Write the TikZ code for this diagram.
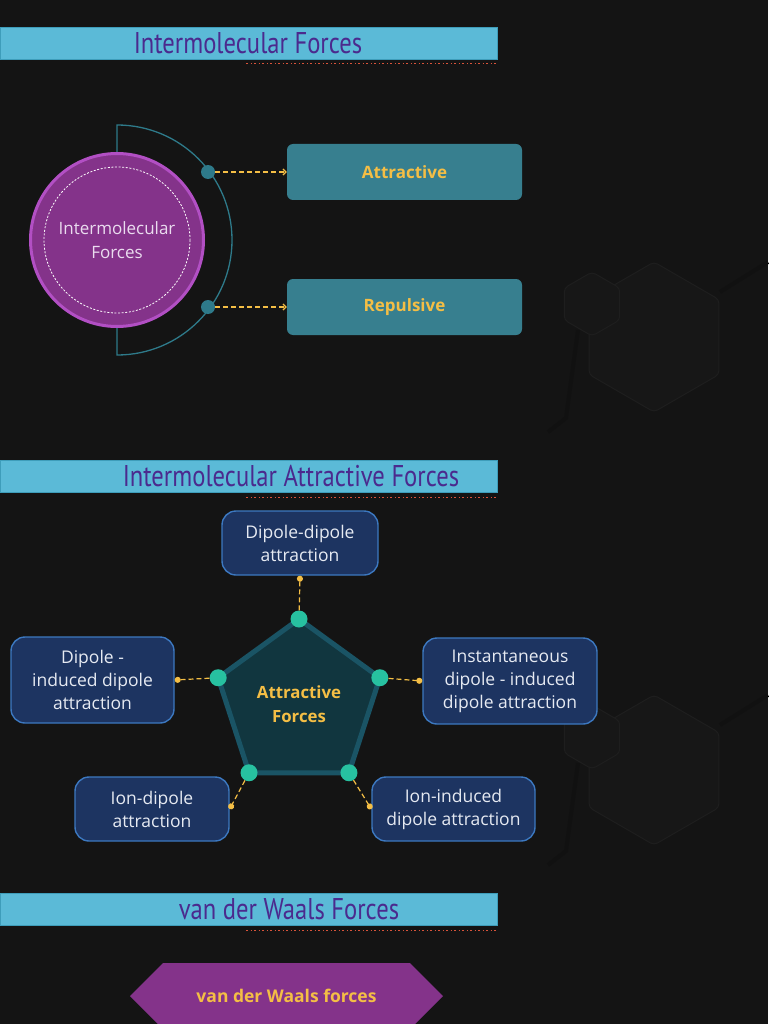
\documentclass[tikz,border=0pt]{standalone}
\usepackage{fontspec}
\setmainfont{Open Sans}
\newfontfamily\titlefont[FakeStretch=0.82]{PT Sans}
\usetikzlibrary{arrows.meta,positioning,shapes.geometric,shapes.misc}
\definecolor{Canvas}{HTML}{141414}
\definecolor{BarColor}{HTML}{5BBAD7}
\definecolor{BarRim}{HTML}{3E9DBA}
\definecolor{TitleInk}{HTML}{4B2A8E}
\definecolor{RuleColor}{HTML}{D9533A}
\definecolor{CoreColor}{HTML}{84338A}
\definecolor{CoreRim}{HTML}{B24FC4}
\definecolor{CoreInk}{HTML}{EADCEF}
\definecolor{OrbitColor}{HTML}{2E7A8A}
\definecolor{TypeColor}{HTML}{377F8F}
\definecolor{Accent}{HTML}{F4BE45}
\definecolor{PentaFill}{HTML}{11363F}
\definecolor{PentaRim}{HTML}{1A5465}
\definecolor{VertexColor}{HTML}{27C1A0}
\definecolor{LeafFill}{HTML}{1D3461}
\definecolor{LeafRim}{HTML}{3C78C0}
\definecolor{LeafInk}{HTML}{E6EAF2}
\definecolor{HexFill}{HTML}{171717}
\definecolor{HexRim}{HTML}{1E1E1E}
\definecolor{HexShade}{HTML}{111111}
\tikzset{
  title bar/.style={rectangle, fill=BarColor, draw=BarRim, line width=0.8pt,
    minimum width=497pt, minimum height=32pt, inner sep=0pt, outer sep=0pt},
  bar title/.style={text=TitleInk, font=\titlefont\fontsize{30}{32}\selectfont, inner sep=0pt},
  bar rule/.style={RuleColor, line width=1pt, dash pattern=on 2pt off 2.5pt on 1pt off 2.5pt},
  back hex/.style={regular polygon, regular polygon sides=6, shape border rotate=30,
    fill=HexFill, draw=HexRim, line width=1pt, rounded corners=4pt, inner sep=0pt},
  back line/.style={draw=HexShade, line width=4pt},
  core ball/.style={circle, fill=CoreColor, draw=CoreRim, line width=3pt,
    minimum size=173pt, inner sep=0pt, align=center, text=CoreInk,
    font=\fontsize{17}{24}\selectfont},
  orbit line/.style={draw=OrbitColor, line width=1.3pt},
  orbit dot/.style={circle, fill=OrbitColor, minimum size=14pt, inner sep=0pt},
  type box/.style={rectangle, fill=TypeColor, rounded corners=6pt,
    minimum width=235pt, minimum height=56pt, text=Accent,
    font=\bfseries\fontsize{17}{20}\selectfont},
  type link/.style={-{Straight Barb[length=3pt,width=6pt]}, draw=Accent,
    line width=1.2pt, dash pattern=on 5pt off 3pt},
  penta/.style={regular polygon, regular polygon sides=5, fill=PentaFill, draw=PentaRim,
    line width=5pt, minimum size=170pt, inner sep=0pt, outer sep=0pt, align=center,
    text=Accent, font=\bfseries\fontsize{16.8}{24}\selectfont},
  vertex dot/.style={circle, fill=VertexColor, minimum size=17pt, inner sep=0pt},
  leaf box/.style={rectangle, fill=LeafFill, draw=LeafRim, line width=1.4pt,
    rounded corners=14pt, align=center, text=LeafInk, inner sep=0pt,
    font=\fontsize{17.5}{23}\selectfont},
  leaf link/.style={-{Circle[length=6pt]}, draw=Accent, line width=1.2pt,
    dash pattern=on 5pt off 3pt},
  waals banner/.style={chamfered rectangle, chamfered rectangle xsep=13pt,
    chamfered rectangle ysep=26pt, fill=CoreColor, minimum width=313pt,
    minimum height=52pt, inner sep=0pt, text=Accent,
    font=\bfseries\fontsize{17.5}{20}\selectfont},
}

\begin{document}
\begin{tikzpicture}[x=1pt,y=-1pt]
  \fill[Canvas] (0,0) rectangle (768,1024);
  \useasboundingbox (0,0) rectangle (768,1024);

  % Faint hexagon motif behind both upper sections.
  \foreach \hy/\hn in {0/a,433/b}{
    \draw[back line] (720,\hy+292) -- (768,\hy+262);
    \draw[back line] (578,\hy+330) -- (566,\hy+418) -- (548,\hy+432);
    \node[back hex, minimum size=150pt] (hexBig\hn) at (654,\hy+337) {};
    \node[back hex, minimum size=64pt] (hexSmall\hn) at (592,\hy+304) {};
  }

  % Section title bars.
  \node[title bar, anchor=north west] (barOne) at (0,27) {};
  \node[title bar, anchor=north west] (barTwo) at (0,460) {};
  \node[title bar, anchor=north west] (barThree) at (0,893) {};
  \node[bar title] at (248,43) {Intermolecular Forces};
  \node[bar title] at (291,476) {Intermolecular Attractive Forces};
  \node[bar title] at (289,909) {van der Waals Forces};
  \draw[bar rule] ([xshift=246pt,yshift=-5pt]barOne.south west) -- ([yshift=-5pt]barOne.south east);
  \draw[bar rule] ([xshift=246pt,yshift=-5pt]barTwo.south west) -- ([yshift=-5pt]barTwo.south east);
  \draw[bar rule] ([xshift=246pt,yshift=-5pt]barThree.south west) -- ([yshift=-5pt]barThree.south east);

  % Intermolecular forces: core with its orbit.
  \draw[orbit line] (117,125) arc[start angle=-90, end angle=90, radius=115] -- cycle;
  \node[core ball] (core) at (117,240) {Intermolecular\\Forces};
  \draw[white, line width=0.8pt, dash pattern=on 2pt off 1.6pt] (core.center) circle (73);
  \node[orbit dot] (attrDot) at (208,172) {};
  \node[orbit dot] (repDot) at (208,307) {};
  \node[type box] (attractive) at (404.5,172) {Attractive};
  \node[type box] (repulsive) at (404.5,307) {Repulsive};
  \draw[type link] (attrDot) -- (attractive.west);
  \draw[type link] (repDot) -- (repulsive.west);

  % Attractive forces around the pentagon.
  \node[penta] (attr) at (299,704) {Attractive\\Forces};
  \node[vertex dot] (vTop) at (attr.corner 1) {};
  \node[vertex dot] (vLeft) at (attr.corner 2) {};
  \node[vertex dot] (vLowLeft) at (attr.corner 3) {};
  \node[vertex dot] (vLowRight) at (attr.corner 4) {};
  \node[vertex dot] (vRight) at (attr.corner 5) {};

  \node[leaf box, minimum width=156pt, minimum height=64pt] (dipoleDipole)
    at (300,543) {Dipole-dipole\\attraction};
  \node[leaf box, minimum width=163pt, minimum height=86pt] (dipoleInduced)
    at (92.5,680) {Dipole -\\induced dipole\\attraction};
  \node[leaf box, minimum width=174pt, minimum height=86pt] (instantaneous)
    at (510,681) {Instantaneous\\dipole - induced\\dipole attraction};
  \node[leaf box, minimum width=154pt, minimum height=64pt] (ionDipole)
    at (152,809) {Ion-dipole\\attraction};
  \node[leaf box, minimum width=163pt, minimum height=64pt] (ionInduced)
    at (453.5,809) {Ion-induced\\dipole attraction};

  \draw[leaf link] (vTop) -- (dipoleDipole.south);
  \draw[leaf link] (vLeft) -- (dipoleInduced.east);
  \draw[leaf link] (vRight) -- (instantaneous.west);
  \draw[leaf link] (vLowLeft) -- (ionDipole.east);
  \draw[leaf link] (vLowRight) -- (ionInduced.west);

  % van der Waals forces.
  \node[waals banner] (waals) at (286.5,996) {van der Waals forces};
  \coordinate (waalsDown) at (287,1030);
  \draw[Accent, line width=1.2pt] (waals.south) -- (waalsDown);
\end{tikzpicture}
\end{document}
